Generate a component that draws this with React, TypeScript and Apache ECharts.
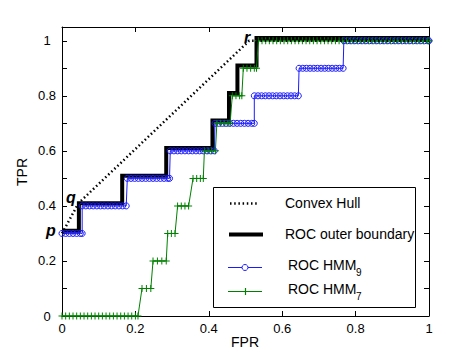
import React, { useEffect, useRef } from "react";
import * as echarts from "echarts";

// ---- data ----
const xTickValues = [0, 0.2, 0.4, 0.6, 0.8, 1];
const yTickValues = [0, 0.2, 0.4, 0.6, 0.8, 1];

// ROC HMM9 (blue circles): TPR level of each row, and the FPR of each point in that row
const hmm9TPR = [0.3, 0.4, 0.5, 0.6, 0.7, 0.8, 0.9, 1.0];
const hmm9FPR = [
  [0, 0.01, 0.02, 0.03, 0.04, 0.05, 0.055],
  [0.055, 0.065, 0.075, 0.085, 0.095, 0.105, 0.115, 0.125, 0.135, 0.145, 0.155, 0.165, 0.175],
  [0.178, 0.188, 0.198, 0.208, 0.218, 0.228, 0.238, 0.248, 0.258, 0.268, 0.278, 0.288, 0.293],
  [0.295, 0.305, 0.315, 0.325, 0.335, 0.345, 0.355, 0.365, 0.375, 0.385, 0.395, 0.405, 0.415],
  [0.417, 0.427, 0.437, 0.447, 0.457, 0.467, 0.477, 0.487, 0.497, 0.507, 0.517, 0.524],
  [0.524, 0.534, 0.544, 0.554, 0.564, 0.574, 0.584, 0.594, 0.604, 0.614, 0.624, 0.634, 0.644],
  [0.646, 0.656, 0.666, 0.676, 0.686, 0.696, 0.706, 0.716, 0.726, 0.736, 0.746, 0.756, 0.766],
  [0.768, 0.778, 0.788, 0.798, 0.808, 0.818, 0.828, 0.838, 0.848, 0.858, 0.868, 0.878, 0.888,
    0.898, 0.908, 0.918, 0.928, 0.938, 0.948, 0.958, 0.968, 0.978, 0.988, 0.998, 1.0],
];

// ROC HMM7 (green plus markers)
const hmm7TPR = [0, 0.1, 0.2, 0.3, 0.4, 0.5, 0.6, 0.7, 0.8, 0.9, 1.0];
const hmm7FPR = [
  [0, 0.01, 0.02, 0.03, 0.04, 0.05, 0.06, 0.07, 0.08, 0.09, 0.1, 0.11, 0.12, 0.13, 0.14,
    0.15, 0.16, 0.17, 0.18, 0.19, 0.2, 0.207],
  [0.218, 0.23, 0.242],
  [0.248, 0.26, 0.272, 0.284],
  [0.288, 0.298, 0.308],
  [0.315, 0.325, 0.335, 0.345],
  [0.357, 0.367, 0.377, 0.385],
  [0.388, 0.398, 0.408, 0.418],
  [0.422, 0.432, 0.442, 0.452, 0.458],
  [0.464, 0.474, 0.484, 0.49],
  [0.494, 0.504, 0.514, 0.524, 0.53],
  [0.535, 0.545, 0.555, 0.565, 0.575, 0.585, 0.595, 0.605, 0.615, 0.625, 0.635, 0.645, 0.655,
    0.665, 0.675, 0.685, 0.695, 0.705, 0.715, 0.725, 0.735, 0.745, 0.755, 0.765, 0.775, 0.785,
    0.795, 0.805, 0.815, 0.825, 0.835, 0.845, 0.855, 0.865, 0.875, 0.885, 0.895, 0.905, 0.915,
    0.925, 0.935, 0.945, 0.955, 0.965, 0.975, 0.985, 0.995, 1.0],
];

// ROC outer boundary (thick black)
const outerFPR = [0, 0.046, 0.046, 0.164, 0.164, 0.284, 0.284, 0.41, 0.41, 0.455, 0.455, 0.478, 0.478, 0.53, 0.53, 1];
const outerTPR = [0.31, 0.31, 0.41, 0.41, 0.51, 0.51, 0.61, 0.61, 0.71, 0.71, 0.81, 0.81, 0.91, 0.91, 1.01, 1.01];

// Convex hull (dotted)
const hullFPR = [0, 0.045, 0.51, 1];
const hullTPR = [0.3, 0.41, 1.0, 1.0];

const FONT = "'Liberation Sans', Arial, Helvetica, sans-serif";
const BLUE = "#1a1aff";
const GREEN = "#008000";
const PLUS = "path://M3,0h1v7h-1zM0,3h7v1h-7z";
const HULL_DASH = [1.5, 2.7];

function rowsToPoints(levels: number[], rows: number[][]): number[][] {
  const pts: number[][] = [];
  rows.forEach((row, i) => row.forEach((x) => pts.push([x, levels[i]])));
  return pts;
}

export default function App() {
  const ref = useRef<HTMLDivElement>(null);
  useEffect(() => {
    if (!ref.current) return;
    const chart = echarts.init(ref.current, undefined, { renderer: "svg" });

    const hmm9Data = rowsToPoints(hmm9TPR, hmm9FPR);
    const hmm7Data = rowsToPoints(hmm7TPR, hmm7FPR);
    const outerData = outerFPR.map((x, i) => [x, outerTPR[i]]);
    const hullData = hullFPR.map((x, i) => [x, hullTPR[i]]);

    const isTickLabel = (v: number, list: number[]) => list.some((t) => Math.abs(t - v) < 1e-6);
    const fmt = (v: number) => String(Math.round(v * 10) / 10);

    const axisCommon = {
      axisLine: { show: true, onZero: false, lineStyle: { color: "#000", width: 1 } },
      axisTick: { show: true, inside: true, length: 5, lineStyle: { color: "#000", width: 1 } },
      splitLine: { show: false },
    };

    const legendX = 213, legendY = 187, legendW = 202, legendH = 120;
    const textStyle = (t: string, x: number, y: number, size = 14) => ({
      type: "text",
      x,
      y,
      z: 101,
      style: {
        text: t,
        font: `${size}px ${FONT}`,
        fill: "#000",
        align: "left",
        verticalAlign: "middle",
        textAlign: "left",
        textVerticalAlign: "middle",
      },
    });
    const label = (t: string, x: number, y: number) => ({
      type: "text",
      x,
      y,
      z: 50,
      style: {
        text: t,
        font: `italic bold 16px ${FONT}`,
        fill: "#000",
        align: "center",
        verticalAlign: "middle",
        textAlign: "center",
        textVerticalAlign: "middle",
      },
    });

    chart.setOption({
      animation: false,
      grid: { left: 62, top: 27, width: 367, height: 289, containLabel: false },
      xAxis: [
        {
          type: "value",
          min: 0,
          max: 1,
          interval: 0.2,
          position: "bottom",
          ...axisCommon,
          axisLabel: {
            show: true,
            margin: 6,
            fontFamily: FONT,
            fontSize: 13,
            color: "#000",
            formatter: (v: number) => (isTickLabel(v, xTickValues) ? fmt(v) : ""),
          },
        },
        {
          type: "value",
          min: 0,
          max: 1,
          interval: 0.2,
          position: "top",
          ...axisCommon,
          axisLabel: { show: false },
        },
      ],
      yAxis: [
        {
          type: "value",
          min: 0,
          max: 1.05,
          interval: 0.1,
          position: "left",
          ...axisCommon,
          axisLabel: {
            show: true,
            margin: 15,
            align: "center",
            fontFamily: FONT,
            fontSize: 13,
            color: "#000",
            formatter: (v: number) => (isTickLabel(v, yTickValues) ? fmt(v) : ""),
          },
        },
        {
          type: "value",
          min: 0,
          max: 1.05,
          interval: 0.1,
          position: "right",
          ...axisCommon,
          axisLabel: { show: false },
        },
      ],
      series: [
        {
          name: "ROC outer boundary",
          type: "line",
          data: outerData,
          showSymbol: false,
          symbol: "none",
          lineStyle: { color: "#000", width: 4, cap: "butt", join: "miter" },
          z: 2,
        },
        {
          name: "ROC HMM9",
          type: "line",
          data: hmm9Data,
          symbol: "circle",
          symbolSize: 6,
          showAllSymbol: true,
          lineStyle: { color: BLUE, width: 1 },
          itemStyle: { color: "rgba(255,255,255,0)", borderColor: BLUE, borderWidth: 1 },
          z: 3,
        },
        {
          name: "ROC HMM7",
          type: "line",
          data: hmm7Data,
          symbol: PLUS,
          symbolSize: 7,
          showAllSymbol: true,
          lineStyle: { color: GREEN, width: 1 },
          itemStyle: { color: GREEN },
          z: 4,
        },
        {
          name: "Convex Hull",
          type: "line",
          data: hullData,
          symbol: "none",
          lineStyle: { color: "#000", width: 2.5, type: HULL_DASH, cap: "butt" },
          z: 5,
        },
      ],
      graphic: [
        {
          type: "text",
          x: 245,
          y: 342,
          style: {
            text: "FPR",
            font: `14px ${FONT}`,
            fill: "#000",
            align: "center",
            verticalAlign: "middle",
            textAlign: "center",
            textVerticalAlign: "middle",
          },
        },
        {
          type: "text",
          x: 22,
          y: 172,
          rotation: Math.PI / 2,
          style: {
            text: "TPR",
            font: `14px ${FONT}`,
            fill: "#000",
            align: "center",
            verticalAlign: "middle",
            textAlign: "center",
            textVerticalAlign: "middle",
          },
        },
        label("p", 51, 230),
        label("q", 71, 197),
        label("r", 247, 37),
        {
          type: "rect",
          z: 100,
          shape: { x: legendX + 0.5, y: legendY + 0.5, width: legendW, height: legendH },
          style: { fill: "#fff", stroke: "#000", lineWidth: 1 },
        },
        {
          type: "line",
          z: 101,
          shape: { x1: 230, y1: 203.5, x2: 258, y2: 203.5 },
          style: { stroke: "#000", lineWidth: 2.5, lineDash: HULL_DASH },
        },
        textStyle("Convex Hull", 285, 203),
        {
          type: "line",
          z: 101,
          shape: { x1: 229, y1: 234.5, x2: 263, y2: 234.5 },
          style: { stroke: "#000", lineWidth: 4 },
        },
        textStyle("ROC outer boundary", 285, 234),
        {
          type: "line",
          z: 101,
          shape: { x1: 228, y1: 267.5, x2: 262, y2: 267.5 },
          style: { stroke: BLUE, lineWidth: 1 },
        },
        {
          type: "circle",
          z: 102,
          shape: { cx: 245, cy: 267.5, r: 3 },
          style: { fill: "#fff", stroke: BLUE, lineWidth: 1 },
        },
        textStyle("ROC HMM", 288, 265),
        textStyle("9", 356, 272, 10),
        {
          type: "line",
          z: 101,
          shape: { x1: 228, y1: 291.5, x2: 262, y2: 291.5 },
          style: { stroke: GREEN, lineWidth: 1 },
        },
        {
          type: "line",
          z: 102,
          shape: { x1: 245.5, y1: 288, x2: 245.5, y2: 295 },
          style: { stroke: GREEN, lineWidth: 1.2 },
        },
        textStyle("ROC HMM", 288, 289),
        textStyle("7", 356, 296, 10),
      ],
    });
    return () => chart.dispose();
  }, []);
  return (
    <div
      ref={ref}
      style={{ position: "fixed", left: 0, top: 0, width: 474, height: 355, background: "#fff" }}
    />
  );
}
